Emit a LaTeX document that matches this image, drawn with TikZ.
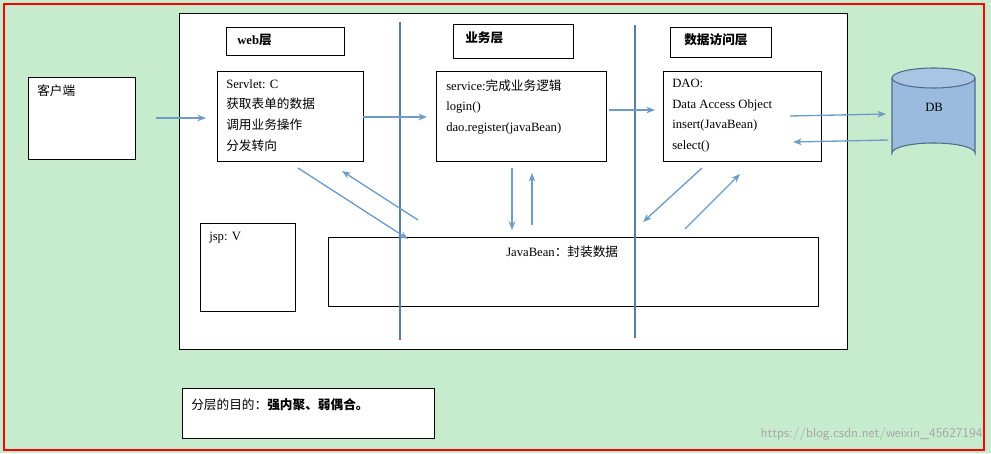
\documentclass[tikz,border=0pt]{standalone}
\usepackage{fontspec}
\setmainfont{Liberation Serif}
\newfontfamily\cjk{Noto Sans CJK SC}
\usetikzlibrary{arrows.meta,shapes.geometric}
\definecolor{bg}{RGB}{199,235,205}
\definecolor{arr}{RGB}{110,155,200}
\definecolor{dbb}{RGB}{155,187,222}
\begin{document}
\begin{tikzpicture}[x=0.75pt,y=-0.75pt,
  box/.style={draw=black,fill=white,line width=0.6pt},
  txt/.style={font=\fontsize{9.5}{15.5}\selectfont,align=left,anchor=north west,inner sep=0pt},
  ar/.style={draw=arr,line width=1pt,-{Stealth[length=6.5pt,width=5pt]}},
  vl/.style={draw=arr!80!black,line width=1pt}]
\fill[bg] (0,0) rectangle (991,453);
\useasboundingbox (0,0) rectangle (991,453);
\draw[red,line width=1.2pt] (4,4) rectangle (984,450);
\draw[box] (179,13) rectangle (847,349);
\draw[box] (226,27) rectangle (344,55);
\node[txt,font=\bfseries\fontsize{9.5}{13}\selectfont] at (237,34) {web{\cjk 层}};
\draw[box] (453,24) rectangle (573,58);
\node[txt,font=\bfseries\cjk\fontsize{9.5}{13}\selectfont] at (465,31) {业务层};
\draw[box] (670,27) rectangle (771,57);
\node[txt,font=\bfseries\cjk\fontsize{9.5}{13}\selectfont] at (684,33) {数据访问层};
\draw[box] (28,77) rectangle (135,159);
\node[txt] at (37,84) {\cjk 客户端};
\draw[box] (217,71) rectangle (363,161);
\node[txt] at (226,79) {Servlet: C\\{\cjk 获取表单的数据}\\{\cjk 调用业务操作}\\{\cjk 分发转向}};
\draw[box] (436,71) rectangle (606,161);
\node[txt] at (446,79) {service:{\cjk 完成业务逻辑}\\login()\\dao.register(javaBean)};
\draw[box] (663,71) rectangle (821,161);
\node[txt] at (672,79) {DAO:\\Data Access Object\\insert(JavaBean)\\select()};
\draw[box] (200,223) rectangle (295,311);
\node[txt] at (209,232) {jsp: V};
\draw[box] (328,237) rectangle (818,306);
\node[txt] at (506,246) {JavaBean{\cjk ：封装数据}};
\draw[vl] (400,22) -- (400,340);
\draw[vl] (635,25) -- (635,338);
% DB
\draw[draw=arr!70!black,fill=dbb,line width=0.8pt] (892,78) -- (892,153) arc[start angle=180,end angle=360,x radius=41.5,y radius=10] -- (975,78);
\draw[draw=arr!70!black,fill=dbb!85!white,line width=0.8pt] (933.5,78) ellipse[x radius=41.5,y radius=10];
\node[txt] at (925,103) {DB};
\draw[box] (182,388) rectangle (434,438);
\node[txt] at (191,398) {\cjk 分层的目的：\textbf{强内聚、弱偶合。}};
\node[anchor=south east,inner sep=1pt,text=gray!70,font=\sffamily\fontsize{10}{12}\selectfont] at (984,442) {https://blog.csdn.net/weixin\_45627194};
% arrows
\draw[ar] (156,118) -- (206,118);
\draw[ar] (363,117) -- (427,117);
\draw[ar] (609,110) -- (655,110);
\draw[ar] (790,116) -- (886,114);
\draw[ar] (888,140) -- (793,142);
\draw[ar] (298,168) -- (408,239);
\draw[ar] (418,220) -- (342,171);
\draw[ar] (512,168) -- (512,230);
\draw[ar] (532,225) -- (532,173);
\draw[ar] (702,168) -- (643,222);
\draw[ar] (685,229) -- (740,174);
\end{tikzpicture}
\end{document}
